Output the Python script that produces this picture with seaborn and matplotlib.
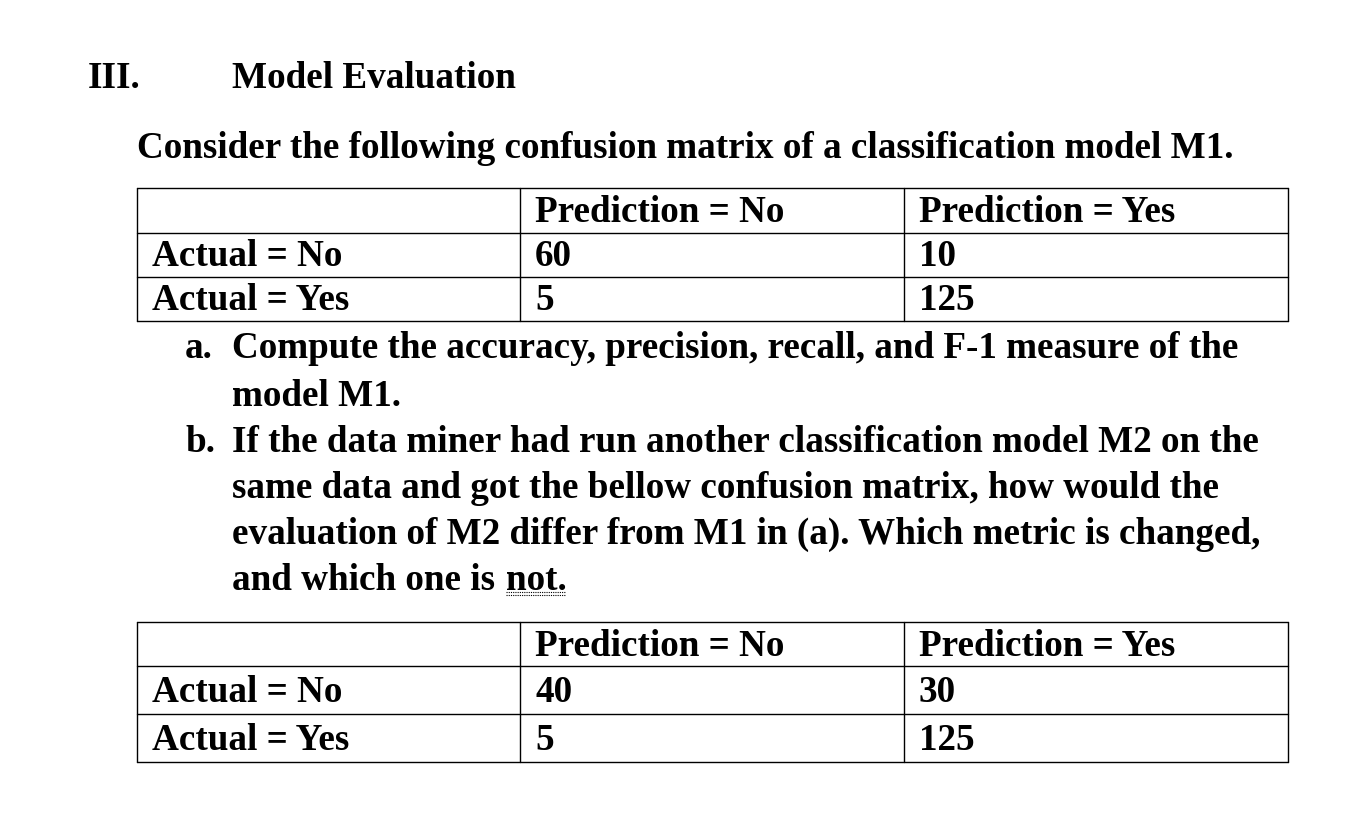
import matplotlib.pyplot as plt
import seaborn as sns

sns.set_style("white")
plt.rcParams["font.family"] = ["Liberation Serif", "DejaVu Serif"]

heading_num = "III."
heading = "Model Evaluation"
intro = "Consider the following confusion matrix of a classification model M1."
col_labels = ["", "Prediction = No", "Prediction = Yes"]
row_labels = ["Actual = No", "Actual = Yes"]
m1_values = [["60", "10"], ["5", "125"]]
m2_values = [["40", "30"], ["5", "125"]]
part_a = ["Compute the accuracy, precision, recall, and F-1 measure of the",
          "model M1."]
part_b = ["If the data miner had run another classification model M2 on the",
          "same data and got the bellow confusion matrix, how would the",
          "evaluation of M2 differ from M1 in (a). Which metric is changed,",
          "and which one is "]
part_b_under = "not."

fig = plt.figure(figsize=(13.64, 8.18), dpi=100)
ax = fig.add_axes([0, 0, 1, 1])
ax.set_xlim(0, 1364)
ax.set_ylim(818, 0)
ax.axis("off")

fs = 26.7
dy = 3
kw = dict(fontsize=fs, fontweight="bold", va="center", color="black")

ax.text(88, 76 + dy, heading_num, **kw)
ax.text(232, 76 + dy, heading, **kw)
ax.text(137, 146 + dy, intro, **kw)


def draw_table(values, ys):
    xs = [137, 520, 904, 1288]
    for y in ys:
        ax.plot([xs[0], xs[-1]], [y, y], color="black", lw=1)
    for x in xs:
        ax.plot([x, x], [ys[0], ys[-1]], color="black", lw=1)
    cells = [col_labels] + [[row_labels[i]] + values[i] for i in range(2)]
    for r, row in enumerate(cells):
        yc = (ys[r] + ys[r + 1]) / 2 + 2
        for c, txt in enumerate(row):
            ax.text(xs[c] + 15, yc, txt, **kw)


draw_table(m1_values, [188, 233, 277, 321])

ax.text(185, 346 + dy, "a.", **kw)
for i, line in enumerate(part_a):
    ax.text(232, 346 + dy + i * 47, line, **kw)

ax.text(185, 439 + dy, "b.", **kw)
for i, line in enumerate(part_b):
    ax.text(232, 439 + dy + i * 46.3, line, **kw)
ax.text(506, 578 + dy, part_b_under, **kw)
ax.plot([506, 566], [592, 592], color="black", lw=0.8, ls=(0, (1, 1)))
ax.plot([506, 566], [595, 595], color="black", lw=0.8, ls=(0, (1, 1)))

draw_table(m2_values, [622, 666, 714, 762])

fig.savefig("out.png", dpi=100)
